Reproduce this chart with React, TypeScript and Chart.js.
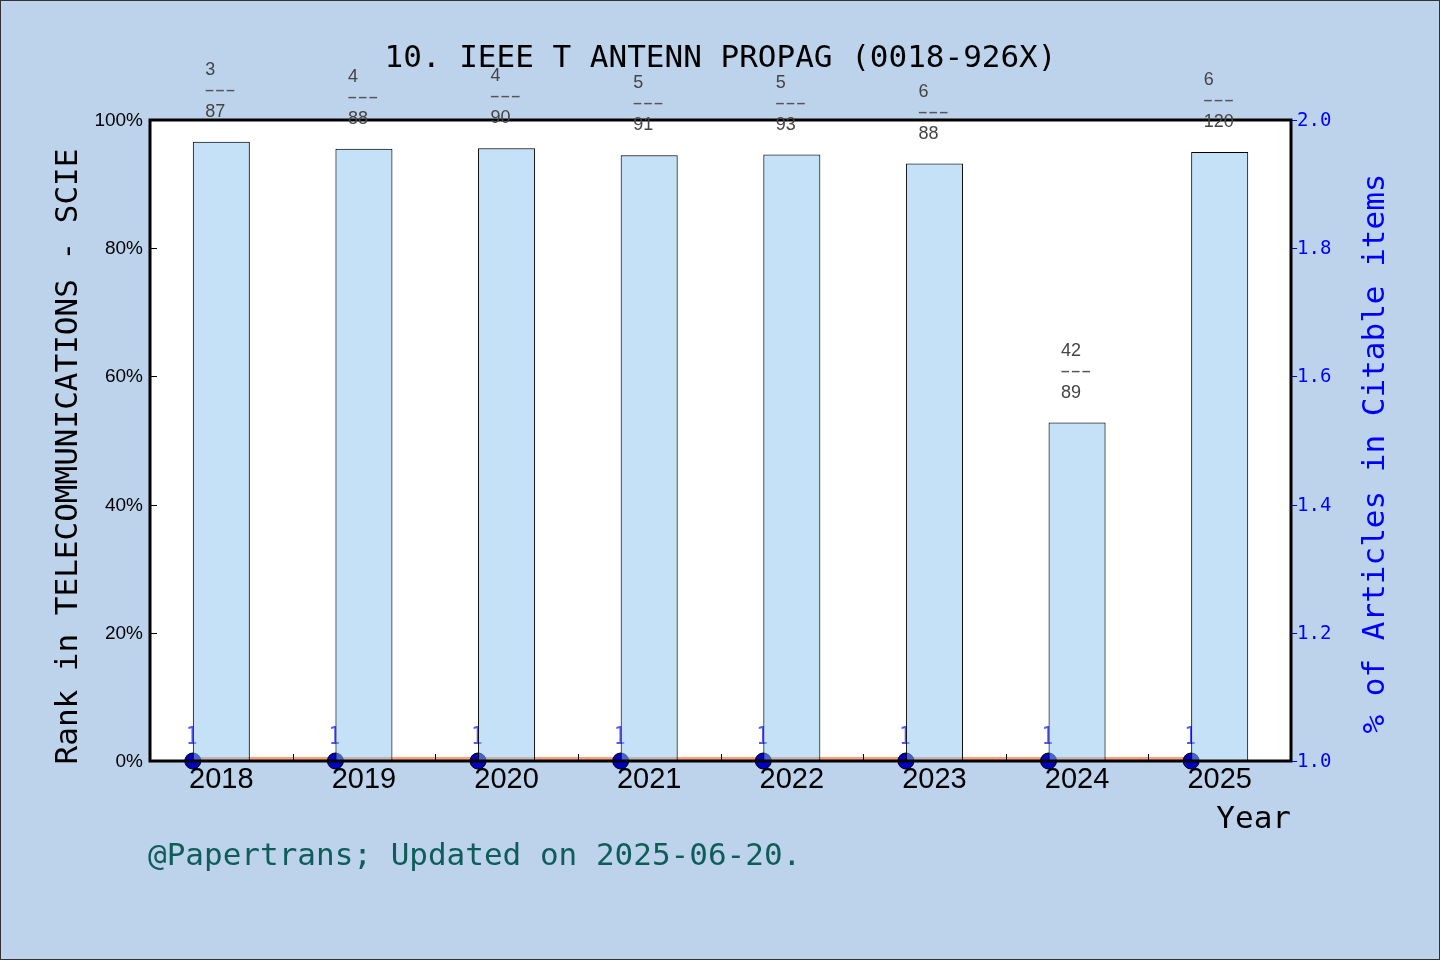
import React, { useEffect, useRef } from "react";
import { Chart, registerables } from "chart.js";

Chart.register(...registerables);

// ---- data ----
const years = ["2018", "2019", "2020", "2021", "2022", "2023", "2024", "2025"];
const rankInCategory = [3, 4, 4, 5, 5, 6, 42, 6];
const journalsInCategory = [87, 88, 90, 91, 93, 88, 89, 120];
const rankPercentile = [96.6, 95.5, 95.6, 94.5, 94.6, 93.2, 52.8, 95.0];
const citableRatio = [1, 1, 1, 1, 1, 1, 1, 1];
const leftTickValues = [0, 20, 40, 60, 80, 100];
const leftTickLabels = ["0%", "20%", "40%", "60%", "80%", "100%"];
const rightTickValues = [1.0, 1.2, 1.4, 1.6, 1.8, 2.0];
const rightTickLabels = ["1.0", "1.2", "1.4", "1.6", "1.8", "2.0"];
const titleText = "10. IEEE T ANTENN PROPAG (0018-926X)";
const leftAxisTitle = "Rank in TELECOMMUNICATIONS - SCIE";
const rightAxisTitle = "% of Articles in Citable items";
const xAxisTitle = "Year";
const footerText = "@Papertrans; Updated on 2025-06-20.";

// ---- styles ----
const BG = "#bdd3eb";
const MONO = '"DejaVu Sans Mono", "Liberation Mono", monospace';
const SANS = '"Liberation Sans", Arial, sans-serif';

const idx = years.map((_, i) => i);

const overlayPlugin = {
  id: "overlay",
  beforeDraw(chart: any) {
    const { ctx, chartArea: a, width, height } = chart;
    ctx.save();
    ctx.fillStyle = BG;
    ctx.fillRect(0, 0, width, height);
    ctx.strokeStyle = "#333";
    ctx.lineWidth = 1;
    ctx.strokeRect(0.5, 0.5, width - 1, height - 1);
    ctx.fillStyle = "#ffffff";
    ctx.fillRect(a.left, a.top, a.right - a.left, a.bottom - a.top);
    ctx.restore();
  },
  beforeDatasetsDraw(chart: any) {
    const { ctx } = chart;
    const xs = chart.scales.x;
    const y1 = chart.scales.y1;
    ctx.save();
    ctx.font = `24px ${MONO}`;
    ctx.fillStyle = "rgba(30,30,255,0.75)";
    ctx.textAlign = "center";
    ctx.textBaseline = "alphabetic";
    idx.forEach((i) => {
      const px = xs.getPixelForValue(i);
      const py = y1.getPixelForValue(citableRatio[i]);
      ctx.save();
      ctx.translate(px - 1, py - 17);
      ctx.scale(0.8, 1);
      ctx.fillText(String(citableRatio[i]), 0, 0);
      ctx.restore();
    });
    ctx.restore();
  },
  afterDatasetsDraw(chart: any) {
    const { ctx, chartArea: a } = chart;
    const xs = chart.scales.x;
    const ys = chart.scales.y;
    const y1 = chart.scales.y1;
    ctx.save();

    // frame
    ctx.strokeStyle = "#000";
    ctx.lineWidth = 3;
    ctx.strokeRect(a.left, a.top, a.right - a.left, a.bottom - a.top);

    // left ticks (inward) + labels
    ctx.lineWidth = 1;
    ctx.font = `19px ${SANS}`;
    ctx.fillStyle = "#000";
    ctx.textAlign = "right";
    ctx.textBaseline = "middle";
    leftTickValues.forEach((v, k) => {
      const py = Math.round(ys.getPixelForValue(v)) + 0.5;
      ctx.beginPath();
      ctx.moveTo(a.left, py);
      ctx.lineTo(a.left + 7, py);
      ctx.stroke();
      ctx.fillText(leftTickLabels[k], a.left - 7, py);
    });

    // right ticks (outward, blue) + labels
    ctx.strokeStyle = "#0000ff";
    ctx.fillStyle = "#0000ff";
    ctx.font = `19px ${MONO}`;
    ctx.textAlign = "left";
    rightTickValues.forEach((v, k) => {
      const py = Math.round(y1.getPixelForValue(v)) + 0.5;
      ctx.beginPath();
      ctx.moveTo(a.right + 1, py);
      ctx.lineTo(a.right + 6, py);
      ctx.stroke();
      ctx.fillText(rightTickLabels[k], a.right + 6, py + 1);
    });

    // bottom minor ticks (inward)
    ctx.strokeStyle = "#000";
    idx.slice(0, idx.length - 1).forEach((i) => {
      const px = Math.round(xs.getPixelForValue(i + 0.7)) + 0.5;
      ctx.beginPath();
      ctx.moveTo(px, a.bottom);
      ctx.lineTo(px, a.bottom - 7);
      ctx.stroke();
    });

    // year labels
    ctx.fillStyle = "#000";
    ctx.font = `29px ${SANS}`;
    ctx.textAlign = "center";
    ctx.textBaseline = "alphabetic";
    idx.forEach((i) => {
      ctx.fillText(years[i], xs.getPixelForValue(i + 0.2), a.bottom + 27);
    });

    // rank labels above bars
    idx.forEach((i) => {
      const left = xs.getPixelForValue(i + 0.2) - 16;
      const top = ys.getPixelForValue(rankPercentile[i]);
      ctx.textAlign = "left";
      ctx.fillStyle = "#444";
      ctx.font = `18px ${SANS}`;
      ctx.fillText(String(rankInCategory[i]), left, top - 67);
      ctx.fillText(String(journalsInCategory[i]), left, top - 25);
      ctx.fillStyle = "#555";
      ctx.save();
      ctx.translate(left - 1, top - 46);
      ctx.scale(1.75, 1);
      ctx.fillText("---", 0, 0);
      ctx.restore();
    });

    // title
    ctx.fillStyle = "#000";
    ctx.font = `31px ${MONO}`;
    ctx.textAlign = "center";
    ctx.fillText(titleText, (a.left + a.right) / 2, 67);

    // x title
    ctx.textAlign = "right";
    ctx.fillText(xAxisTitle, a.right, 828);

    // footer
    ctx.textAlign = "left";
    ctx.fillStyle = "#0e5d5a";
    ctx.fillText(footerText, 148, 865);

    // left axis title
    ctx.fillStyle = "#000";
    ctx.save();
    ctx.translate(77, (a.top + a.bottom) / 2 + 16);
    ctx.rotate(-Math.PI / 2);
    ctx.textAlign = "center";
    ctx.fillText(leftAxisTitle, 0, 0);
    ctx.restore();

    // right axis title
    ctx.fillStyle = "#0000ff";
    ctx.save();
    ctx.translate(1384, (a.top + a.bottom) / 2 + 13);
    ctx.rotate(-Math.PI / 2);
    ctx.textAlign = "center";
    ctx.fillText(rightAxisTitle, 0, 0);
    ctx.restore();

    ctx.restore();
  },
};

export default function App() {
  const ref = useRef<HTMLCanvasElement | null>(null);

  useEffect(() => {
    document.body.style.margin = "0";
    const canvas = ref.current;
    if (!canvas) return;
    const chart = new Chart(canvas, {
      type: "bar",
      data: {
        datasets: [
          {
            type: "bar",
            label: "rank",
            data: idx.map((i) => ({ x: i + 0.2, y: rankPercentile[i] })),
            xAxisID: "x",
            yAxisID: "y",
            backgroundColor: "rgba(140,195,240,0.5)",
            borderColor: "#000",
            borderWidth: 1,
            categoryPercentage: 0.4,
            barPercentage: 1.0,
            order: 0,
          } as any,
          {
            type: "line",
            label: "points",
            data: idx.map((i) => ({ x: i, y: citableRatio[i] })),
            xAxisID: "x",
            yAxisID: "y1",
            showLine: false,
            pointRadius: 8,
            pointBackgroundColor: "#0000c0",
            pointBorderColor: "#000",
            pointBorderWidth: 1,
            clip: false,
            order: 1,
          } as any,
          {
            type: "line",
            label: "citable",
            data: idx.map((i) => ({ x: i, y: citableRatio[i] })),
            xAxisID: "x",
            yAxisID: "y1",
            borderColor: "#ffa07a",
            borderWidth: 8,
            pointRadius: 0,
            clip: 0,
            order: 2,
          } as any,
        ],
      },
      options: {
        responsive: false,
        animation: false,
        devicePixelRatio: 1,
        layout: { padding: { left: 150, right: 149, top: 120, bottom: 199 } },
        plugins: {
          legend: { display: false },
          tooltip: { enabled: false },
        },
        scales: {
          x: {
            type: "linear",
            display: false,
            offset: false,
            min: -0.3,
            max: 7.7,
            grid: { offset: false },
            afterBuildTicks: (scale: any) => {
              scale.ticks = idx.map((i) => ({ value: i }));
            },
          },
          y: { type: "linear", display: false, min: 0, max: 100, position: "left" },
          y1: { type: "linear", display: false, min: 1, max: 2, position: "right" },
        },
      } as any,
      plugins: [overlayPlugin],
    });
    return () => chart.destroy();
  }, []);

  return (
    <canvas
      ref={ref}
      width={1440}
      height={960}
      style={{ display: "block", width: 1440, height: 960 }}
    />
  );
}
